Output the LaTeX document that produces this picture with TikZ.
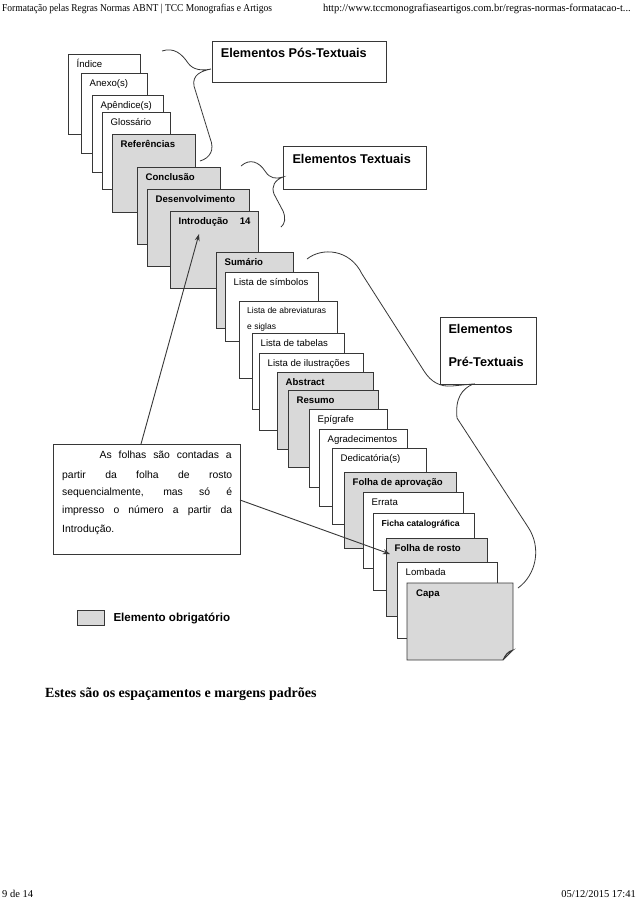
\documentclass[tikz,border=0pt]{standalone}
\usepackage{fontspec}
\setmainfont{Liberation Serif}
\newfontfamily\arial{Liberation Sans}
\usetikzlibrary{arrows.meta}
\definecolor{pgray}{RGB}{217,217,217}
\definecolor{ln}{RGB}{55,55,55}
\newcommand\pgpage[8]{%
  \node[#2, anchor=north west, minimum width={#5pt-#3pt}, minimum height={#6pt-#4pt}] (#1) at (#3,#4) {};
  \node[#7] (#1t) at (#3+8.5,#4+13.7) {#8};}
\begin{document}
\begin{tikzpicture}[x=1pt,y=-1pt,
  pw/.style={draw=ln, fill=white, line width=0.8pt, inner sep=0pt, outer sep=0pt},
  pg/.style={pw, fill=pgray},
  lbl/.style={anchor=base west, inner sep=0pt, text=black, font=\arial\fontsize{9.6}{11}\selectfont},
  lblb/.style={lbl, font=\arial\bfseries\fontsize{9.6}{11}\selectfont},
  lbls/.style={lbl, font=\arial\fontsize{8.5}{10}\selectfont},
  lblbs/.style={lbl, font=\arial\bfseries\fontsize{8.6}{10}\selectfont},
  big/.style={anchor=base west, inner sep=0pt, font=\arial\bfseries\fontsize{12.7}{14}\selectfont},
  note/.style={anchor=base west, inner sep=0pt, font=\arial\fontsize{10.4}{12}\selectfont},
  brace/.style={draw=ln, line width=0.8pt},
  arr/.style={draw=ln, line width=0.9pt, -{Stealth[length=7pt,width=5pt]}},
  hdr/.style={inner sep=0pt, font=\fontsize{10.5}{12}\selectfont}
]
\useasboundingbox[fill=white] (0,0) rectangle (638,903);
% header / footer
\node[hdr, anchor=base west] (h1) at (2,11.5) {\scalebox{0.905}[1]{Formatação pelas Regras Normas ABNT | TCC Monografias e Artigos}};
\node[hdr, anchor=base east] (h2) at (631,11.5) {http://www.tccmonografiaseartigos.com.br/regras-normas-formatacao-t...};
\node[hdr, anchor=base west] (f1) at (2,897) {9 de 14};
\node[hdr, anchor=base east] (f2) at (636,897) {05/12/2015 17:41};
% post-textual stack
\pgpage{indice}{pw}{68}{54}{140}{134}{lbl}{Índice}
\pgpage{anexo}{pw}{81}{73}{147}{153}{lbl}{Anexo(s)}
\pgpage{apendice}{pw}{92}{95}{163}{172}{lbl}{Apêndice(s)}
\pgpage{glossario}{pw}{102}{112}{170}{189}{lbl}{Glossário}
\pgpage{refs}{pg}{112}{134}{195}{212}{lblb}{Referências}
\pgpage{concl}{pg}{137}{167}{220}{244}{lblb}{Conclusão}
\pgpage{desenv}{pg}{147}{189}{249}{266}{lblb}{Desenvolvimento}
\pgpage{intro}{pg}{170}{211}{258}{288}{lblb}{Introdução\hspace{11.5pt}14}
% pre-textual stack
\pgpage{sumario}{pg}{216}{252}{293}{328}{lblb}{Sumário}
\pgpage{simbolos}{pw}{225}{272}{318}{341}{lbl}{Lista de símbolos}
\node[pw, anchor=north west, minimum width=98pt, minimum height=77pt] (abrev) at (239,301) {};
\node[lbls] (abrevt) at (247,313.8) {Lista de abreviaturas};
\node[lbls] (abrevt2) at (247,329.1) {e siglas};
\pgpage{tabelas}{pw}{252}{333}{344}{409}{lbl}{Lista de tabelas}
\pgpage{ilustr}{pw}{259}{353}{363}{430}{lbl}{Lista de ilustrações}
\pgpage{abstract}{pg}{277}{372}{373}{449}{lblb}{Abstract}
\pgpage{resumo}{pg}{288}{390}{378}{467}{lblb}{Resumo}
\pgpage{epigrafe}{pw}{309}{409}{387}{487}{lbl}{Epígrafe}
\pgpage{agrad}{pw}{319}{429}{407}{506}{lbl}{Agradecimentos}
\pgpage{dedic}{pw}{332}{448}{426}{524}{lbl}{Dedicatória(s)}
\pgpage{aprov}{pg}{344}{472}{456}{548}{lblb}{Folha de aprovação}
\pgpage{errata}{pw}{363}{492}{463}{568}{lbl}{Errata}
\pgpage{ficha}{pw}{373}{513}{474}{590}{lblbs}{Ficha catalográfica}
\pgpage{rosto}{pg}{386}{538}{487}{616}{lblb}{Folha de rosto}
\pgpage{lombada}{pw}{397}{562}{497}{638}{lbl}{Lombada}
% capa with folded corner
\node[anchor=north west, minimum width=106pt, minimum height=77pt, inner sep=0pt, outer sep=0pt] (capa) at (407,583) {};
\draw[pg] (capa.north west) -- (capa.north east) -- ([yshift=10pt]capa.south east) -- ([xshift=-10pt]capa.south east) -- (capa.south west) -- cycle;
\draw[draw=ln, line width=0.7pt, fill=gray!55] ([xshift=-10pt]capa.south east) .. controls ([xshift=-8pt,yshift=5pt]capa.south east) and ([xshift=-5pt,yshift=9pt]capa.south east) .. ([yshift=10pt]capa.south east) -- ([xshift=-6pt,yshift=6pt]capa.south east) -- cycle;
\node[lblb] (capat) at (416,596.5) {Capa};
% element boxes
\node[pw, anchor=north west, minimum width=174pt, minimum height=41pt] (pos) at (212,41) {};
\node[big] (post) at (220.7,57.8) {Elementos Pós-Textuais};
\node[pw, anchor=north west, minimum width=143pt, minimum height=43pt] (txt) at (283,146) {};
\node[big] (txtt) at (292.3,163.5) {Elementos Textuais};
\node[pw, anchor=north west, minimum width=96pt, minimum height=67pt] (pre) at (440,317) {};
\node[big] (pret1) at (448.3,333.5) {Elementos};
\node[big] (pret2) at (448.3,366.2) {Pré-Textuais};
% braces
\draw[brace] (162,51) .. controls (174,47) and (182,54) .. (188,63) .. controls (193,70) and (202,71) .. (211,69)
  .. controls (201,71) and (192,75) .. (194,86) -- (210,138) .. controls (215,150) and (210,158) .. (200,161);
\draw[brace] (241,166) .. controls (250,158) and (259,162) .. (265,171) .. controls (270,179) and (276,179) .. (283,177)
  .. controls (275,180) and (271,186) .. (274,194) -- (283,211) .. controls (286,218) and (285,224) .. (281,227);
\draw[brace] (307,259) .. controls (322,247) and (350,249) .. (362,274) -- (424,371) .. controls (431,382) and (440,387) .. (452,386) -- (473,384)
  .. controls (462,389) and (455,398) .. (457,418) -- (528,527) .. controls (542,548) and (536,575) .. (518,588);
% note box
\node[pw, anchor=north west, minimum width=187pt, minimum height=110pt] (notebox) at (53,444) {};
\node[note] (n1) at (99.5,458) {\makebox[132pt][s]{As folhas são contadas a}};
\node[note] (n2) at (62,478.7) {\makebox[170pt][s]{partir da folha de rosto}};
\node[note] (n3) at (62,495.4) {\makebox[170pt][s]{sequencialmente, mas só é}};
\node[note] (n4) at (62,513.7) {\makebox[170pt][s]{impresso o número a partir da}};
\node[note] (n5) at (62,532.7) {Introdução.};
% arrows
\coordinate (a1s) at (141,444);
\coordinate (a1e) at (199,234);
\coordinate (a2s) at (240,500);
\coordinate (a2e) at (390,554);
\draw[arr] (a1s) -- (a1e);
\draw[arr] (a2s) -- (a2e);
% legend
\node[pg, anchor=north west, minimum width=27pt, minimum height=15pt] (leg) at (77,610) {};
\node[anchor=base west, inner sep=0pt, font=\arial\bfseries\fontsize{11.6}{13}\selectfont] (legt) at (113.3,621.9) {Elemento obrigatório};
% caption
\node[anchor=base west, inner sep=0pt, font=\bfseries\fontsize{14}{16}\selectfont] (cap) at (45,697.5) {Estes são os espaçamentos e margens padrões};
\end{tikzpicture}
\end{document}
